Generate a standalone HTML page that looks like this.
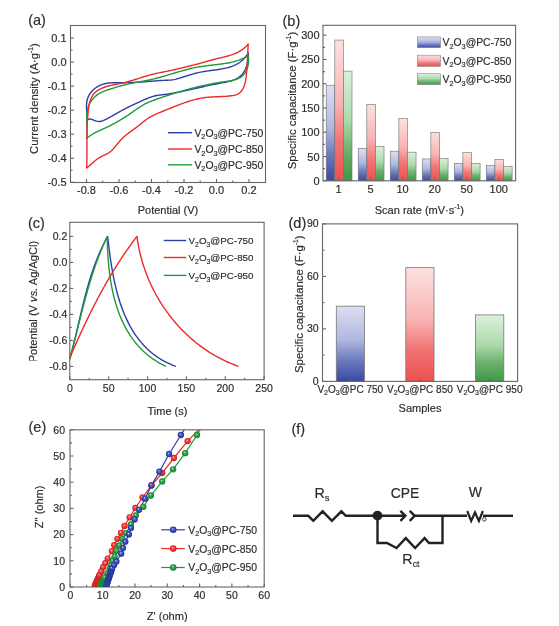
<!DOCTYPE html><html><head><meta charset="utf-8"><style>html,body{margin:0;padding:0;background:#fff;}svg{display:block;will-change:transform}text{font-family:"Liberation Sans",sans-serif;fill:#2b2b2b;stroke:#333;stroke-width:0.18px}</style></head><body>
<svg width="559" height="626" viewBox="0 0 559 626">
<defs>
<linearGradient id="gb" x1="0" y1="0" x2="0" y2="1"><stop offset="0" stop-color="#dcdff3"/><stop offset="0.45" stop-color="#b0b7e0"/><stop offset="0.72" stop-color="#6c7abf"/><stop offset="1" stop-color="#3a48a4"/></linearGradient>
<linearGradient id="gr" x1="0" y1="0" x2="0" y2="1"><stop offset="0" stop-color="#fde0e0"/><stop offset="0.45" stop-color="#f9b4b4"/><stop offset="0.72" stop-color="#f27474"/><stop offset="1" stop-color="#ec5050"/></linearGradient>
<linearGradient id="gg" x1="0" y1="0" x2="0" y2="1"><stop offset="0" stop-color="#dcf0dc"/><stop offset="0.45" stop-color="#acdaac"/><stop offset="0.72" stop-color="#6cb06e"/><stop offset="1" stop-color="#3f9845"/></linearGradient>
<radialGradient id="mb" cx="0.5" cy="0.5" r="0.55" fx="0.42" fy="0.35"><stop offset="0" stop-color="#f4f6ff"/><stop offset="0.22" stop-color="#6070d0"/><stop offset="0.6" stop-color="#3444b0"/><stop offset="1" stop-color="#22308a"/></radialGradient>
<radialGradient id="mr" cx="0.5" cy="0.5" r="0.55" fx="0.42" fy="0.35"><stop offset="0" stop-color="#fff4f4"/><stop offset="0.22" stop-color="#f86060"/><stop offset="0.6" stop-color="#ee2a2a"/><stop offset="1" stop-color="#c01818"/></radialGradient>
<radialGradient id="mg" cx="0.5" cy="0.5" r="0.55" fx="0.42" fy="0.35"><stop offset="0" stop-color="#f4fff4"/><stop offset="0.22" stop-color="#50b060"/><stop offset="0.6" stop-color="#229a3a"/><stop offset="1" stop-color="#16702a"/></radialGradient>
<clipPath id="ce"><rect x="70" y="429.8" width="194.2" height="157.2"/></clipPath>
</defs>
<rect width="559" height="626" fill="#fff"/>
<text x="28.2" y="24.6" font-size="14.5" text-anchor="start" >(a)</text>
<rect x="70.5" y="25.5" width="195" height="157" fill="none" stroke="#666" stroke-width="1.1"/>
<line x1="86.5" y1="182.5" x2="86.5" y2="179" stroke="#666" stroke-width="1.1"/>
<text x="86.5" y="194.3" font-size="11" text-anchor="middle" >-0.8</text>
<line x1="119" y1="182.5" x2="119" y2="179" stroke="#666" stroke-width="1.1"/>
<text x="119" y="194.3" font-size="11" text-anchor="middle" >-0.6</text>
<line x1="151.5" y1="182.5" x2="151.5" y2="179" stroke="#666" stroke-width="1.1"/>
<text x="151.5" y="194.3" font-size="11" text-anchor="middle" >-0.4</text>
<line x1="184" y1="182.5" x2="184" y2="179" stroke="#666" stroke-width="1.1"/>
<text x="184" y="194.3" font-size="11" text-anchor="middle" >-0.2</text>
<line x1="216.5" y1="182.5" x2="216.5" y2="179" stroke="#666" stroke-width="1.1"/>
<text x="216.5" y="194.3" font-size="11" text-anchor="middle" >0.0</text>
<line x1="249" y1="182.5" x2="249" y2="179" stroke="#666" stroke-width="1.1"/>
<text x="249" y="194.3" font-size="11" text-anchor="middle" >0.2</text>
<line x1="102.75" y1="182.5" x2="102.75" y2="180.5" stroke="#666" stroke-width="1.1"/>
<line x1="135.25" y1="182.5" x2="135.25" y2="180.5" stroke="#666" stroke-width="1.1"/>
<line x1="167.75" y1="182.5" x2="167.75" y2="180.5" stroke="#666" stroke-width="1.1"/>
<line x1="200.25" y1="182.5" x2="200.25" y2="180.5" stroke="#666" stroke-width="1.1"/>
<line x1="232.75" y1="182.5" x2="232.75" y2="180.5" stroke="#666" stroke-width="1.1"/>
<line x1="70.5" y1="38" x2="74" y2="38" stroke="#666" stroke-width="1.1"/>
<text x="66.6" y="42" font-size="11" text-anchor="end" >0.1</text>
<line x1="70.5" y1="62.05" x2="74" y2="62.05" stroke="#666" stroke-width="1.1"/>
<text x="66.6" y="66.05" font-size="11" text-anchor="end" >0.0</text>
<line x1="70.5" y1="86.1" x2="74" y2="86.1" stroke="#666" stroke-width="1.1"/>
<text x="66.6" y="90.1" font-size="11" text-anchor="end" >-0.1</text>
<line x1="70.5" y1="110.15" x2="74" y2="110.15" stroke="#666" stroke-width="1.1"/>
<text x="66.6" y="114.15" font-size="11" text-anchor="end" >-0.2</text>
<line x1="70.5" y1="134.2" x2="74" y2="134.2" stroke="#666" stroke-width="1.1"/>
<text x="66.6" y="138.2" font-size="11" text-anchor="end" >-0.3</text>
<line x1="70.5" y1="158.25" x2="74" y2="158.25" stroke="#666" stroke-width="1.1"/>
<text x="66.6" y="162.25" font-size="11" text-anchor="end" >-0.4</text>
<line x1="70.5" y1="182.3" x2="74" y2="182.3" stroke="#666" stroke-width="1.1"/>
<text x="66.6" y="186.3" font-size="11" text-anchor="end" >-0.5</text>
<line x1="70.5" y1="50.03" x2="72.5" y2="50.03" stroke="#666" stroke-width="1.1"/>
<line x1="70.5" y1="74.08" x2="72.5" y2="74.08" stroke="#666" stroke-width="1.1"/>
<line x1="70.5" y1="98.13" x2="72.5" y2="98.13" stroke="#666" stroke-width="1.1"/>
<line x1="70.5" y1="122.18" x2="72.5" y2="122.18" stroke="#666" stroke-width="1.1"/>
<line x1="70.5" y1="146.23" x2="72.5" y2="146.23" stroke="#666" stroke-width="1.1"/>
<line x1="70.5" y1="170.28" x2="72.5" y2="170.28" stroke="#666" stroke-width="1.1"/>
<text transform="translate(37.8,98.6) rotate(-90)" font-size="11.3" text-anchor="middle">Current density (A·g<tspan font-size="6.6" dy="-4.8">-1</tspan><tspan dy="4.8">)</tspan></text>
<text x="168" y="214" font-size="11" text-anchor="middle" >Potential (V)</text>
<path d="M86.6 120.6 L87.63 119.69 L88.69 119.2 L89.76 119.05 L90.86 119.16 L91.97 119.46 L93.09 119.87 L94.21 120.33 L95.34 120.76 L96.47 121.1 L97.59 121.35 L98.71 121.48 L99.81 121.47 L100.91 121.31 L102.01 121.01 L103.09 120.61 L104.18 120.14 L105.26 119.63 L106.34 119.1 L107.42 118.55 L108.5 117.99 L109.57 117.41 L110.63 116.83 L111.68 116.24 L112.71 115.65 L113.74 115.06 L114.77 114.47 L115.79 113.88 L116.81 113.3 L117.83 112.71 L118.86 112.14 L119.89 111.56 L120.92 111 L121.96 110.43 L123 109.87 L124.04 109.32 L125.09 108.77 L126.15 108.23 L127.2 107.69 L128.26 107.16 L129.32 106.63 L130.38 106.1 L131.45 105.58 L132.52 105.07 L133.59 104.55 L134.66 104.05 L135.74 103.54 L136.81 103.05 L137.89 102.55 L138.97 102.06 L140.05 101.58 L141.14 101.09 L142.22 100.62 L143.31 100.14 L144.39 99.67 L145.48 99.21 L146.57 98.74 L147.66 98.29 L148.75 97.86 L149.85 97.44 L150.96 97.04 L152.08 96.67 L153.21 96.33 L154.35 96.03 L155.5 95.77 L156.67 95.54 L157.85 95.34 L159.03 95.16 L160.22 95 L161.41 94.85 L162.6 94.7 L163.8 94.56 L164.99 94.41 L166.18 94.26 L167.36 94.1 L168.54 93.93 L169.72 93.75 L170.89 93.56 L172.06 93.37 L173.23 93.17 L174.4 92.97 L175.56 92.76 L176.72 92.54 L177.88 92.32 L179.04 92.1 L180.19 91.87 L181.35 91.63 L182.5 91.39 L183.65 91.15 L184.8 90.9 L185.95 90.65 L187.1 90.4 L188.24 90.14 L189.39 89.88 L190.54 89.62 L191.68 89.36 L192.83 89.1 L193.98 88.83 L195.13 88.57 L196.27 88.3 L197.42 88.03 L198.57 87.77 L199.72 87.5 L200.88 87.23 L202.03 86.97 L203.19 86.7 L204.34 86.44 L205.5 86.18 L206.67 85.92 L207.83 85.67 L209 85.41 L210.16 85.16 L211.34 84.92 L212.51 84.67 L213.69 84.43 L214.87 84.2 L216.06 83.97 L217.24 83.74 L218.44 83.52 L219.63 83.3 L220.83 83.09 L222.03 82.88 L223.23 82.66 L224.42 82.44 L225.61 82.2 L226.79 81.96 L227.95 81.69 L229.11 81.41 L230.25 81.11 L231.37 80.78 L232.48 80.42 L233.56 80.03 L234.62 79.61 L235.65 79.15 L236.66 78.64 L237.64 78.09 L238.58 77.5 L239.49 76.85 L240.36 76.15 L241.2 75.39 L241.99 74.57 L242.74 73.69 L243.44 72.74 L244.1 71.72 L244.71 70.64 L245.27 69.5 L245.79 68.32 L246.26 67.1 L246.68 65.85 L247.05 64.58 L247.37 63.31 L247.65 62.03 L247.88 60.76 L248.07 59.51 L248.21 58.29 L248.3 57.1 L248.34 55.96 L248.34 54.88 L248.29 53.85 L248.2 52.9 L248.2 52.9 L247.52 54.08 L246.8 55.2 L246.04 56.26 L245.26 57.26 L244.44 58.21 L243.6 59.11 L242.72 59.96 L241.82 60.76 L240.89 61.51 L239.93 62.22 L238.95 62.88 L237.95 63.51 L236.92 64.09 L235.87 64.64 L234.8 65.15 L233.71 65.62 L232.61 66.06 L231.48 66.48 L230.34 66.86 L229.18 67.22 L228.01 67.55 L226.83 67.86 L225.63 68.14 L224.42 68.41 L223.2 68.66 L221.98 68.89 L220.74 69.11 L219.5 69.31 L218.25 69.51 L217 69.69 L215.74 69.87 L214.48 70.04 L213.22 70.21 L211.96 70.38 L210.69 70.55 L209.43 70.72 L208.17 70.89 L206.92 71.07 L205.67 71.26 L204.42 71.45 L203.18 71.66 L201.95 71.88 L200.73 72.11 L199.51 72.36 L198.31 72.63 L197.12 72.91 L195.93 73.21 L194.75 73.52 L193.58 73.84 L192.42 74.17 L191.25 74.51 L190.09 74.86 L188.94 75.21 L187.78 75.57 L186.63 75.93 L185.47 76.29 L184.31 76.66 L183.15 77.02 L181.99 77.38 L180.82 77.73 L179.65 78.08 L178.47 78.43 L177.28 78.76 L176.09 79.08 L174.89 79.37 L173.68 79.63 L172.46 79.84 L171.25 79.98 L170.03 80.08 L168.8 80.14 L167.58 80.18 L166.35 80.23 L165.12 80.28 L163.89 80.34 L162.65 80.41 L161.42 80.49 L160.18 80.57 L158.95 80.66 L157.72 80.75 L156.49 80.84 L155.26 80.94 L154.03 81.03 L152.8 81.13 L151.58 81.22 L150.35 81.32 L149.13 81.41 L147.91 81.5 L146.69 81.59 L145.47 81.68 L144.25 81.77 L143.03 81.86 L141.81 81.94 L140.59 82.02 L139.37 82.1 L138.14 82.18 L136.92 82.25 L135.7 82.31 L134.47 82.38 L133.24 82.44 L132.02 82.49 L130.78 82.54 L129.55 82.59 L128.32 82.62 L127.08 82.66 L125.84 82.68 L124.59 82.7 L123.35 82.72 L122.09 82.73 L120.84 82.73 L119.58 82.72 L118.32 82.71 L117.06 82.71 L115.81 82.72 L114.55 82.73 L113.29 82.76 L112.04 82.82 L110.8 82.89 L109.56 83 L108.34 83.13 L107.12 83.3 L105.91 83.52 L104.71 83.77 L103.53 84.08 L102.36 84.44 L101.21 84.86 L100.08 85.33 L98.97 85.87 L97.88 86.45 L96.82 87.09 L95.8 87.78 L94.81 88.53 L93.86 89.32 L92.95 90.15 L92.09 91.03 L91.28 91.95 L90.52 92.91 L89.82 93.92 L89.18 94.95 L88.61 96.03 L88.1 97.13 L87.67 98.27 L87.31 99.44 L87.02 100.64 L86.82 101.86 L86.67 103.1 L86.58 104.36 L86.54 105.63 L86.54 106.92 L86.57 108.2 L86.62 109.5 L86.68 110.79 L86.75 112.07 L86.81 113.35 L86.86 114.61 L86.88 115.85 L86.88 117.08 L86.84 118.28 L86.75 119.46 L86.6 120.6 Z" fill="none" stroke="#2b3fa6" stroke-width="1.4" stroke-linejoin="round"/>
<path d="M86.6 138.5 L87.53 137.7 L88.48 136.95 L89.45 136.22 L90.44 135.53 L91.44 134.87 L92.46 134.24 L93.5 133.63 L94.55 133.05 L95.61 132.48 L96.69 131.94 L97.77 131.4 L98.86 130.88 L99.95 130.37 L101.05 129.87 L102.15 129.37 L103.25 128.87 L104.36 128.37 L105.46 127.87 L106.55 127.36 L107.65 126.85 L108.74 126.33 L109.82 125.79 L110.9 125.25 L111.97 124.7 L113.04 124.14 L114.1 123.57 L115.16 122.99 L116.21 122.4 L117.26 121.81 L118.31 121.21 L119.35 120.6 L120.38 119.98 L121.42 119.35 L122.44 118.72 L123.47 118.08 L124.49 117.44 L125.5 116.79 L126.52 116.13 L127.52 115.47 L128.53 114.8 L129.53 114.12 L130.53 113.44 L131.53 112.76 L132.52 112.07 L133.51 111.37 L134.5 110.68 L135.49 109.99 L136.48 109.3 L137.47 108.61 L138.47 107.94 L139.47 107.28 L140.48 106.63 L141.5 105.99 L142.52 105.38 L143.56 104.79 L144.61 104.22 L145.67 103.67 L146.74 103.15 L147.82 102.65 L148.92 102.17 L150.02 101.71 L151.13 101.26 L152.24 100.82 L153.37 100.39 L154.5 99.97 L155.63 99.56 L156.76 99.15 L157.9 98.74 L159.05 98.34 L160.19 97.94 L161.34 97.54 L162.49 97.15 L163.64 96.76 L164.79 96.37 L165.95 95.99 L167.1 95.61 L168.26 95.23 L169.42 94.86 L170.58 94.48 L171.73 94.12 L172.89 93.75 L174.05 93.39 L175.21 93.04 L176.37 92.69 L177.53 92.34 L178.68 91.99 L179.84 91.65 L180.99 91.31 L182.15 90.98 L183.3 90.65 L184.46 90.32 L185.61 90 L186.76 89.68 L187.92 89.37 L189.07 89.06 L190.23 88.75 L191.38 88.45 L192.54 88.15 L193.69 87.86 L194.85 87.57 L196.01 87.28 L197.17 87 L198.33 86.72 L199.49 86.45 L200.66 86.18 L201.82 85.91 L202.99 85.65 L204.16 85.39 L205.34 85.14 L206.51 84.89 L207.69 84.65 L208.87 84.41 L210.05 84.17 L211.24 83.94 L212.43 83.71 L213.62 83.49 L214.82 83.27 L216.02 83.06 L217.22 82.85 L218.43 82.65 L219.64 82.45 L220.86 82.25 L222.08 82.06 L223.3 81.88 L224.53 81.69 L225.76 81.51 L226.99 81.33 L228.22 81.15 L229.44 80.95 L230.65 80.73 L231.85 80.5 L233.03 80.24 L234.19 79.95 L235.33 79.62 L236.44 79.26 L237.52 78.85 L238.57 78.39 L239.57 77.88 L240.54 77.31 L241.47 76.68 L242.34 75.98 L243.17 75.21 L243.94 74.36 L244.66 73.44 L245.32 72.46 L245.93 71.41 L246.47 70.32 L246.96 69.18 L247.39 68 L247.75 66.78 L248.06 65.55 L248.3 64.29 L248.48 63.03 L248.6 61.76 L248.65 60.49 L248.64 59.24 L248.56 58 L248.41 56.78 L248.2 55.6 L248.2 55.6 L247.08 56.28 L245.95 56.91 L244.81 57.52 L243.66 58.09 L242.5 58.62 L241.33 59.13 L240.15 59.6 L238.96 60.05 L237.76 60.46 L236.56 60.86 L235.34 61.22 L234.12 61.56 L232.89 61.89 L231.66 62.18 L230.41 62.46 L229.17 62.73 L227.91 62.97 L226.66 63.2 L225.4 63.41 L224.13 63.61 L222.86 63.8 L221.59 63.98 L220.31 64.15 L219.03 64.31 L217.75 64.47 L216.47 64.62 L215.19 64.77 L213.9 64.91 L212.62 65.05 L211.33 65.2 L210.05 65.34 L208.77 65.49 L207.49 65.64 L206.21 65.8 L204.93 65.96 L203.65 66.13 L202.38 66.32 L201.11 66.51 L199.85 66.71 L198.58 66.93 L197.33 67.16 L196.07 67.4 L194.82 67.65 L193.58 67.92 L192.33 68.19 L191.09 68.48 L189.85 68.77 L188.62 69.08 L187.38 69.39 L186.15 69.71 L184.92 70.04 L183.69 70.37 L182.47 70.71 L181.24 71.05 L180.01 71.4 L178.79 71.76 L177.56 72.12 L176.34 72.48 L175.11 72.84 L173.89 73.21 L172.66 73.58 L171.44 73.95 L170.21 74.32 L168.98 74.69 L167.75 75.05 L166.52 75.42 L165.29 75.79 L164.06 76.15 L162.82 76.5 L161.59 76.86 L160.35 77.21 L159.11 77.55 L157.87 77.88 L156.63 78.21 L155.39 78.53 L154.15 78.84 L152.9 79.15 L151.65 79.44 L150.4 79.72 L149.15 79.99 L147.9 80.25 L146.64 80.51 L145.39 80.75 L144.13 80.99 L142.88 81.23 L141.62 81.46 L140.36 81.68 L139.11 81.91 L137.85 82.14 L136.6 82.37 L135.34 82.6 L134.09 82.83 L132.83 83.07 L131.58 83.32 L130.33 83.57 L129.09 83.84 L127.84 84.11 L126.6 84.39 L125.36 84.69 L124.12 84.99 L122.89 85.31 L121.65 85.65 L120.42 85.99 L119.19 86.34 L117.96 86.7 L116.73 87.07 L115.49 87.45 L114.26 87.83 L113.02 88.21 L111.78 88.6 L110.53 88.99 L109.29 89.38 L108.04 89.78 L106.8 90.19 L105.56 90.62 L104.34 91.07 L103.14 91.55 L101.96 92.07 L100.81 92.63 L99.69 93.24 L98.6 93.89 L97.55 94.6 L96.54 95.35 L95.57 96.15 L94.64 96.99 L93.75 97.88 L92.92 98.81 L92.13 99.77 L91.39 100.78 L90.7 101.82 L90.06 102.89 L89.49 104 L88.96 105.13 L88.5 106.3 L88.11 107.5 L87.77 108.72 L87.48 109.96 L87.25 111.23 L87.07 112.52 L86.93 113.82 L86.83 115.13 L86.76 116.46 L86.72 117.8 L86.71 119.14 L86.72 120.49 L86.74 121.84 L86.78 123.19 L86.83 124.53 L86.88 125.88 L86.92 127.21 L86.97 128.54 L87 129.85 L87.02 131.15 L87.02 132.43 L87 133.69 L86.95 134.93 L86.87 136.15 L86.76 137.34 L86.6 138.5 Z" fill="none" stroke="#1e9a3a" stroke-width="1.4" stroke-linejoin="round"/>
<path d="M86.6 168 L87.74 167.14 L88.84 166.24 L89.92 165.32 L90.99 164.37 L92.05 163.41 L93.11 162.46 L94.17 161.51 L95.26 160.59 L96.36 159.69 L97.5 158.84 L98.67 158.03 L99.89 157.29 L101.16 156.61 L102.47 155.99 L103.8 155.38 L105.12 154.77 L106.42 154.14 L107.68 153.47 L108.89 152.72 L110.03 151.89 L111.12 150.99 L112.15 150.04 L113.15 149.03 L114.11 147.98 L115.04 146.9 L115.96 145.79 L116.86 144.67 L117.76 143.55 L118.66 142.43 L119.57 141.33 L120.5 140.26 L121.46 139.21 L122.45 138.21 L123.46 137.25 L124.51 136.31 L125.57 135.41 L126.66 134.54 L127.77 133.68 L128.89 132.84 L130.02 132 L131.17 131.18 L132.31 130.35 L133.46 129.53 L134.61 128.69 L135.76 127.84 L136.9 126.98 L138.03 126.09 L139.16 125.18 L140.27 124.27 L141.39 123.35 L142.51 122.43 L143.64 121.53 L144.77 120.65 L145.92 119.8 L147.09 118.99 L148.27 118.22 L149.47 117.48 L150.69 116.78 L151.92 116.11 L153.17 115.47 L154.42 114.85 L155.69 114.26 L156.97 113.68 L158.26 113.12 L159.56 112.57 L160.86 112.03 L162.17 111.5 L163.49 110.98 L164.8 110.45 L166.12 109.92 L167.45 109.39 L168.77 108.86 L170.1 108.32 L171.42 107.79 L172.75 107.25 L174.09 106.72 L175.42 106.19 L176.76 105.66 L178.09 105.14 L179.44 104.62 L180.78 104.12 L182.12 103.62 L183.47 103.13 L184.82 102.65 L186.18 102.18 L187.53 101.73 L188.89 101.29 L190.25 100.86 L191.62 100.45 L192.99 100.06 L194.36 99.69 L195.73 99.34 L197.11 99.01 L198.49 98.7 L199.88 98.41 L201.26 98.15 L202.65 97.91 L204.05 97.7 L205.45 97.52 L206.85 97.36 L208.25 97.22 L209.66 97.11 L211.07 97.01 L212.49 96.93 L213.9 96.85 L215.32 96.79 L216.74 96.73 L218.17 96.68 L219.59 96.62 L221.02 96.56 L222.45 96.5 L223.88 96.42 L225.31 96.34 L226.74 96.23 L228.18 96.12 L229.61 95.98 L231.05 95.81 L232.48 95.62 L233.9 95.38 L235.28 95.05 L236.61 94.62 L237.86 94.05 L239.02 93.32 L240.09 92.44 L241.06 91.42 L241.93 90.29 L242.71 89.07 L243.39 87.78 L243.98 86.45 L244.49 85.09 L244.91 83.71 L245.27 82.31 L245.56 80.89 L245.8 79.46 L246.01 78.02 L246.18 76.58 L246.33 75.14 L246.46 73.7 L246.59 72.27 L246.71 70.84 L246.82 69.41 L246.92 67.99 L247.02 66.58 L247.11 65.16 L247.2 63.75 L247.29 62.34 L247.37 60.93 L247.44 59.52 L247.52 58.12 L247.59 56.71 L247.66 55.3 L247.72 53.88 L247.79 52.47 L247.86 51.05 L247.92 49.63 L247.99 48.2 L248.06 46.78 L248.13 45.34 L248.2 43.9 L248.2 43.9 L247.19 45.14 L246.13 46.29 L245.03 47.37 L243.89 48.37 L242.71 49.29 L241.49 50.15 L240.25 50.95 L238.97 51.69 L237.66 52.37 L236.32 53 L234.96 53.59 L233.58 54.13 L232.17 54.64 L230.75 55.11 L229.32 55.55 L227.87 55.97 L226.41 56.37 L224.94 56.74 L223.46 57.11 L221.98 57.47 L220.5 57.82 L219.02 58.17 L217.53 58.52 L216.06 58.89 L214.59 59.26 L213.13 59.65 L211.67 60.05 L210.23 60.46 L208.78 60.87 L207.34 61.29 L205.9 61.7 L204.46 62.12 L203.02 62.53 L201.57 62.93 L200.13 63.33 L198.68 63.71 L197.22 64.08 L195.76 64.45 L194.31 64.81 L192.85 65.17 L191.39 65.54 L189.93 65.9 L188.47 66.26 L187.02 66.63 L185.56 66.99 L184.1 67.35 L182.64 67.71 L181.17 68.07 L179.71 68.42 L178.24 68.77 L176.78 69.12 L175.31 69.46 L173.83 69.79 L172.36 70.12 L170.88 70.44 L169.4 70.76 L167.92 71.07 L166.43 71.37 L164.95 71.67 L163.46 71.97 L161.97 72.27 L160.49 72.57 L159 72.88 L157.53 73.19 L156.05 73.51 L154.58 73.85 L153.12 74.19 L151.66 74.55 L150.21 74.92 L148.77 75.31 L147.33 75.72 L145.9 76.14 L144.48 76.57 L143.05 77.01 L141.63 77.45 L140.22 77.9 L138.8 78.35 L137.38 78.81 L135.96 79.26 L134.54 79.71 L133.12 80.16 L131.69 80.6 L130.25 81.03 L128.81 81.45 L127.36 81.85 L125.9 82.24 L124.44 82.62 L122.96 82.98 L121.47 83.32 L119.96 83.63 L118.45 83.93 L116.94 84.23 L115.42 84.52 L113.9 84.81 L112.38 85.11 L110.88 85.43 L109.38 85.77 L107.9 86.14 L106.44 86.54 L105 86.99 L103.58 87.48 L102.2 88.03 L100.84 88.63 L99.53 89.3 L98.26 90.04 L97.05 90.85 L95.91 91.74 L94.85 92.71 L93.87 93.76 L92.98 94.89 L92.18 96.09 L91.47 97.36 L90.85 98.69 L90.32 100.08 L89.86 101.52 L89.47 103 L89.14 104.51 L88.86 106.04 L88.62 107.6 L88.42 109.16 L88.24 110.72 L88.07 112.27 L87.93 113.82 L87.79 115.36 L87.67 116.89 L87.56 118.42 L87.46 119.94 L87.37 121.46 L87.29 122.97 L87.22 124.47 L87.16 125.98 L87.11 127.48 L87.07 128.97 L87.04 130.46 L87.01 131.96 L86.98 133.44 L86.97 134.93 L86.95 136.41 L86.94 137.9 L86.94 139.38 L86.93 140.87 L86.93 142.35 L86.93 143.83 L86.93 145.32 L86.94 146.81 L86.94 148.29 L86.94 149.79 L86.93 151.28 L86.93 152.78 L86.92 154.28 L86.91 155.78 L86.89 157.29 L86.87 158.8 L86.84 160.32 L86.81 161.84 L86.77 163.37 L86.72 164.91 L86.67 166.45 L86.6 168 Z" fill="none" stroke="#ee2a2a" stroke-width="1.4" stroke-linejoin="round"/>
<line x1="167.9" y1="132.7" x2="191.9" y2="132.7" stroke="#2b3fa6" stroke-width="1.4"/>
<text x="194.4" y="136.6" font-size="10.4" text-anchor="start" >V<tspan font-size="7.28" dy="2.6">2</tspan><tspan dy="-2.6">O</tspan><tspan font-size="7.28" dy="2.6">3</tspan><tspan dy="-2.6">@PC-750</tspan></text>
<line x1="167.9" y1="149" x2="191.9" y2="149" stroke="#ee2a2a" stroke-width="1.4"/>
<text x="194.4" y="152.9" font-size="10.4" text-anchor="start" >V<tspan font-size="7.28" dy="2.6">2</tspan><tspan dy="-2.6">O</tspan><tspan font-size="7.28" dy="2.6">3</tspan><tspan dy="-2.6">@PC-850</tspan></text>
<line x1="167.9" y1="164.8" x2="191.9" y2="164.8" stroke="#1e9a3a" stroke-width="1.4"/>
<text x="194.4" y="168.7" font-size="10.4" text-anchor="start" >V<tspan font-size="7.28" dy="2.6">2</tspan><tspan dy="-2.6">O</tspan><tspan font-size="7.28" dy="2.6">3</tspan><tspan dy="-2.6">@PC-950</tspan></text>
<text x="282.5" y="26" font-size="14.5" text-anchor="start" >(b)</text>
<rect x="326.2" y="85.2" width="8.6" height="95.6" fill="url(#gb)" stroke="#6e6e6e" stroke-width="0.6"/>
<rect x="334.8" y="40.06" width="8.6" height="140.74" fill="url(#gr)" stroke="#6e6e6e" stroke-width="0.6"/>
<rect x="343.4" y="71.12" width="8.6" height="109.68" fill="url(#gg)" stroke="#6e6e6e" stroke-width="0.6"/>
<rect x="358.22" y="148.28" width="8.6" height="32.52" fill="url(#gb)" stroke="#6e6e6e" stroke-width="0.6"/>
<rect x="366.82" y="104.61" width="8.6" height="76.19" fill="url(#gr)" stroke="#6e6e6e" stroke-width="0.6"/>
<rect x="375.42" y="146.34" width="8.6" height="34.46" fill="url(#gg)" stroke="#6e6e6e" stroke-width="0.6"/>
<rect x="390.24" y="151.2" width="8.6" height="29.6" fill="url(#gb)" stroke="#6e6e6e" stroke-width="0.6"/>
<rect x="398.84" y="118.68" width="8.6" height="62.12" fill="url(#gr)" stroke="#6e6e6e" stroke-width="0.6"/>
<rect x="407.44" y="152.17" width="8.6" height="28.63" fill="url(#gg)" stroke="#6e6e6e" stroke-width="0.6"/>
<rect x="422.26" y="158.96" width="8.6" height="21.84" fill="url(#gb)" stroke="#6e6e6e" stroke-width="0.6"/>
<rect x="430.86" y="132.27" width="8.6" height="48.53" fill="url(#gr)" stroke="#6e6e6e" stroke-width="0.6"/>
<rect x="439.46" y="158.48" width="8.6" height="22.32" fill="url(#gg)" stroke="#6e6e6e" stroke-width="0.6"/>
<rect x="454.28" y="163.33" width="8.6" height="17.47" fill="url(#gb)" stroke="#6e6e6e" stroke-width="0.6"/>
<rect x="462.88" y="152.65" width="8.6" height="28.15" fill="url(#gr)" stroke="#6e6e6e" stroke-width="0.6"/>
<rect x="471.48" y="163.33" width="8.6" height="17.47" fill="url(#gg)" stroke="#6e6e6e" stroke-width="0.6"/>
<rect x="486.3" y="165.27" width="8.6" height="15.53" fill="url(#gb)" stroke="#6e6e6e" stroke-width="0.6"/>
<rect x="494.9" y="159.45" width="8.6" height="21.35" fill="url(#gr)" stroke="#6e6e6e" stroke-width="0.6"/>
<rect x="503.5" y="166.24" width="8.6" height="14.56" fill="url(#gg)" stroke="#6e6e6e" stroke-width="0.6"/>
<rect x="323" y="25.3" width="192.6" height="155.5" fill="none" stroke="#666" stroke-width="1.1"/>
<line x1="338.6" y1="180.8" x2="338.6" y2="177.8" stroke="#666" stroke-width="1.1"/>
<text x="338.6" y="192.6" font-size="11" text-anchor="middle" >1</text>
<line x1="370.62" y1="180.8" x2="370.62" y2="177.8" stroke="#666" stroke-width="1.1"/>
<text x="370.62" y="192.6" font-size="11" text-anchor="middle" >5</text>
<line x1="402.64" y1="180.8" x2="402.64" y2="177.8" stroke="#666" stroke-width="1.1"/>
<text x="402.64" y="192.6" font-size="11" text-anchor="middle" >10</text>
<line x1="434.66" y1="180.8" x2="434.66" y2="177.8" stroke="#666" stroke-width="1.1"/>
<text x="434.66" y="192.6" font-size="11" text-anchor="middle" >20</text>
<line x1="466.68" y1="180.8" x2="466.68" y2="177.8" stroke="#666" stroke-width="1.1"/>
<text x="466.68" y="192.6" font-size="11" text-anchor="middle" >50</text>
<line x1="498.7" y1="180.8" x2="498.7" y2="177.8" stroke="#666" stroke-width="1.1"/>
<text x="498.7" y="192.6" font-size="11" text-anchor="middle" >100</text>
<line x1="323" y1="180.8" x2="326.5" y2="180.8" stroke="#666" stroke-width="1.1"/>
<text x="319.6" y="184.8" font-size="11" text-anchor="end" >0</text>
<line x1="323" y1="156.54" x2="326.5" y2="156.54" stroke="#666" stroke-width="1.1"/>
<text x="319.6" y="160.54" font-size="11" text-anchor="end" >50</text>
<line x1="323" y1="132.27" x2="326.5" y2="132.27" stroke="#666" stroke-width="1.1"/>
<text x="319.6" y="136.27" font-size="11" text-anchor="end" >100</text>
<line x1="323" y1="108.01" x2="326.5" y2="108.01" stroke="#666" stroke-width="1.1"/>
<text x="319.6" y="112.01" font-size="11" text-anchor="end" >150</text>
<line x1="323" y1="83.74" x2="326.5" y2="83.74" stroke="#666" stroke-width="1.1"/>
<text x="319.6" y="87.74" font-size="11" text-anchor="end" >200</text>
<line x1="323" y1="59.48" x2="326.5" y2="59.48" stroke="#666" stroke-width="1.1"/>
<text x="319.6" y="63.48" font-size="11" text-anchor="end" >250</text>
<line x1="323" y1="35.21" x2="326.5" y2="35.21" stroke="#666" stroke-width="1.1"/>
<text x="319.6" y="39.21" font-size="11" text-anchor="end" >300</text>
<line x1="323" y1="168.67" x2="325" y2="168.67" stroke="#666" stroke-width="1.1"/>
<line x1="323" y1="144.4" x2="325" y2="144.4" stroke="#666" stroke-width="1.1"/>
<line x1="323" y1="120.14" x2="325" y2="120.14" stroke="#666" stroke-width="1.1"/>
<line x1="323" y1="95.87" x2="325" y2="95.87" stroke="#666" stroke-width="1.1"/>
<line x1="323" y1="71.61" x2="325" y2="71.61" stroke="#666" stroke-width="1.1"/>
<line x1="323" y1="47.34" x2="325" y2="47.34" stroke="#666" stroke-width="1.1"/>
<text transform="translate(296.2,100.5) rotate(-90)" font-size="11.4" text-anchor="middle">Specific capacitance (F·g<tspan font-size="6.6" dy="-4.8">-1</tspan><tspan dy="4.8">)</tspan></text>
<text x="419.3" y="213.5" font-size="11" text-anchor="middle">Scan rate (mV·s<tspan font-size="6.6" dy="-4.8">-1</tspan><tspan dy="4.8">)</tspan></text>
<rect x="417.3" y="36.9" width="23.2" height="10.8" fill="url(#gb)" stroke="#888" stroke-width="0.6"/>
<text x="442.5" y="46.2" font-size="10.4" text-anchor="start" >V<tspan font-size="7.28" dy="2.6">2</tspan><tspan dy="-2.6">O</tspan><tspan font-size="7.28" dy="2.6">3</tspan><tspan dy="-2.6">@PC-750</tspan></text>
<rect x="417.3" y="55.2" width="23.2" height="11.2" fill="url(#gr)" stroke="#888" stroke-width="0.6"/>
<text x="442.5" y="64.7" font-size="10.4" text-anchor="start" >V<tspan font-size="7.28" dy="2.6">2</tspan><tspan dy="-2.6">O</tspan><tspan font-size="7.28" dy="2.6">3</tspan><tspan dy="-2.6">@PC-850</tspan></text>
<rect x="417.3" y="73.7" width="23.2" height="11" fill="url(#gg)" stroke="#888" stroke-width="0.6"/>
<text x="442.5" y="83.1" font-size="10.4" text-anchor="start" >V<tspan font-size="7.28" dy="2.6">2</tspan><tspan dy="-2.6">O</tspan><tspan font-size="7.28" dy="2.6">3</tspan><tspan dy="-2.6">@PC-950</tspan></text>
<text x="28" y="227.5" font-size="14.5" text-anchor="start" >(c)</text>
<rect x="69.8" y="222.3" width="194.3" height="157.4" fill="none" stroke="#666" stroke-width="1.1"/>
<line x1="69.8" y1="379.7" x2="69.8" y2="376.2" stroke="#666" stroke-width="1.1"/>
<text x="69.8" y="391.8" font-size="10.5" text-anchor="middle" >0</text>
<line x1="108.66" y1="379.7" x2="108.66" y2="376.2" stroke="#666" stroke-width="1.1"/>
<text x="108.66" y="391.8" font-size="10.5" text-anchor="middle" >50</text>
<line x1="147.52" y1="379.7" x2="147.52" y2="376.2" stroke="#666" stroke-width="1.1"/>
<text x="147.52" y="391.8" font-size="10.5" text-anchor="middle" >100</text>
<line x1="186.38" y1="379.7" x2="186.38" y2="376.2" stroke="#666" stroke-width="1.1"/>
<text x="186.38" y="391.8" font-size="10.5" text-anchor="middle" >150</text>
<line x1="225.24" y1="379.7" x2="225.24" y2="376.2" stroke="#666" stroke-width="1.1"/>
<text x="225.24" y="391.8" font-size="10.5" text-anchor="middle" >200</text>
<line x1="264.1" y1="379.7" x2="264.1" y2="376.2" stroke="#666" stroke-width="1.1"/>
<text x="264.1" y="391.8" font-size="10.5" text-anchor="middle" >250</text>
<line x1="89.23" y1="379.7" x2="89.23" y2="377.7" stroke="#666" stroke-width="1.1"/>
<line x1="128.09" y1="379.7" x2="128.09" y2="377.7" stroke="#666" stroke-width="1.1"/>
<line x1="166.95" y1="379.7" x2="166.95" y2="377.7" stroke="#666" stroke-width="1.1"/>
<line x1="205.81" y1="379.7" x2="205.81" y2="377.7" stroke="#666" stroke-width="1.1"/>
<line x1="244.67" y1="379.7" x2="244.67" y2="377.7" stroke="#666" stroke-width="1.1"/>
<line x1="69.8" y1="236.4" x2="73.3" y2="236.4" stroke="#666" stroke-width="1.1"/>
<text x="67.3" y="240.2" font-size="10.5" text-anchor="end" >0.2</text>
<line x1="69.8" y1="262.4" x2="73.3" y2="262.4" stroke="#666" stroke-width="1.1"/>
<text x="67.3" y="266.2" font-size="10.5" text-anchor="end" >0.0</text>
<line x1="69.8" y1="288.4" x2="73.3" y2="288.4" stroke="#666" stroke-width="1.1"/>
<text x="67.3" y="292.2" font-size="10.5" text-anchor="end" >-0.2</text>
<line x1="69.8" y1="314.4" x2="73.3" y2="314.4" stroke="#666" stroke-width="1.1"/>
<text x="67.3" y="318.2" font-size="10.5" text-anchor="end" >-0.4</text>
<line x1="69.8" y1="340.4" x2="73.3" y2="340.4" stroke="#666" stroke-width="1.1"/>
<text x="67.3" y="344.2" font-size="10.5" text-anchor="end" >-0.6</text>
<line x1="69.8" y1="366.4" x2="73.3" y2="366.4" stroke="#666" stroke-width="1.1"/>
<text x="67.3" y="370.2" font-size="10.5" text-anchor="end" >-0.8</text>
<line x1="69.8" y1="249.4" x2="71.8" y2="249.4" stroke="#666" stroke-width="1.1"/>
<line x1="69.8" y1="275.4" x2="71.8" y2="275.4" stroke="#666" stroke-width="1.1"/>
<line x1="69.8" y1="301.4" x2="71.8" y2="301.4" stroke="#666" stroke-width="1.1"/>
<line x1="69.8" y1="327.4" x2="71.8" y2="327.4" stroke="#666" stroke-width="1.1"/>
<line x1="69.8" y1="353.4" x2="71.8" y2="353.4" stroke="#666" stroke-width="1.1"/>
<clipPath id="cpt"><rect x="0" y="200" width="60" height="160.6"/></clipPath>
<g clip-path="url(#cpt)"><text transform="translate(37.2,301.6) rotate(-90)" font-size="11.1" text-anchor="middle">Potential (V <tspan font-style="italic">vs.</tspan> Ag/AgCl)</text></g>
<text x="167.5" y="415.3" font-size="11" text-anchor="middle" >Time (s)</text>
<path d="M69.8 359 L70.22 357.44 L70.65 355.88 L71.07 354.31 L71.48 352.74 L71.89 351.17 L72.29 349.6 L72.69 348.03 L73.09 346.45 L73.48 344.87 L73.87 343.29 L74.26 341.71 L74.64 340.12 L75.02 338.54 L75.4 336.95 L75.77 335.36 L76.15 333.78 L76.52 332.19 L76.89 330.59 L77.26 329 L77.63 327.41 L78 325.82 L78.37 324.22 L78.74 322.63 L79.11 321.04 L79.48 319.44 L79.86 317.85 L80.23 316.25 L80.6 314.66 L80.98 313.07 L81.36 311.47 L81.74 309.88 L82.12 308.29 L82.5 306.7 L82.89 305.11 L83.28 303.52 L83.68 301.93 L84.08 300.35 L84.48 298.76 L84.88 297.18 L85.3 295.6 L85.71 294.01 L86.13 292.44 L86.56 290.86 L86.99 289.29 L87.43 287.71 L87.87 286.14 L88.32 284.58 L88.78 283.01 L89.25 281.45 L89.72 279.89 L90.2 278.33 L90.68 276.78 L91.18 275.23 L91.68 273.68 L92.19 272.14 L92.71 270.6 L93.24 269.06 L93.78 267.53 L94.33 266 L94.88 264.48 L95.45 262.95 L96.03 261.44 L96.62 259.92 L97.22 258.42 L97.83 256.91 L98.45 255.41 L99.08 253.92 L99.73 252.43 L100.39 250.94 L101.06 249.46 L101.74 247.99 L102.44 246.52 L103.15 245.06 L103.87 243.6 L104.6 242.15 L105.36 240.7 L106.12 239.26 L106.9 237.82 L107.69 236.4 L107.7 236.41 L107.9 238.26 L108.11 240.13 L108.32 242.02 L108.53 243.91 L108.76 245.81 L108.99 247.72 L109.22 249.65 L109.46 251.58 L109.72 253.51 L109.98 255.46 L110.24 257.41 L110.52 259.36 L110.81 261.32 L111.11 263.29 L111.42 265.25 L111.74 267.22 L112.07 269.19 L112.41 271.17 L112.77 273.14 L113.14 275.11 L113.52 277.09 L113.92 279.06 L114.33 281.03 L114.76 282.99 L115.21 284.95 L115.66 286.91 L116.14 288.86 L116.63 290.81 L117.15 292.75 L117.67 294.69 L118.22 296.61 L118.79 298.53 L119.37 300.44 L119.98 302.34 L120.61 304.22 L121.26 306.1 L121.92 307.96 L122.62 309.82 L123.33 311.65 L124.06 313.48 L124.82 315.29 L125.61 317.08 L126.42 318.86 L127.25 320.62 L128.11 322.37 L128.99 324.09 L129.9 325.8 L130.84 327.49 L131.8 329.15 L132.79 330.8 L133.81 332.42 L134.86 334.03 L135.94 335.61 L137.05 337.16 L138.19 338.69 L139.36 340.2 L140.56 341.68 L141.79 343.13 L143.05 344.56 L144.35 345.96 L145.68 347.32 L147.04 348.67 L148.43 349.98 L149.87 351.26 L151.33 352.5 L152.83 353.72 L154.37 354.9 L155.95 356.05 L157.56 357.17 L159.21 358.25 L160.89 359.3 L162.62 360.31 L164.38 361.28 L166.18 362.22 L168.03 363.11 L169.91 363.97 L171.83 364.79 L173.8 365.57 L175.81 366.3" fill="none" stroke="#2b3fa6" stroke-width="1.4" stroke-linejoin="round"/>
<path d="M69.8 359 L70.22 357.44 L70.64 355.87 L71.05 354.31 L71.47 352.75 L71.88 351.18 L72.29 349.61 L72.69 348.04 L73.1 346.47 L73.5 344.9 L73.9 343.33 L74.3 341.76 L74.7 340.19 L75.1 338.61 L75.49 337.04 L75.89 335.46 L76.28 333.89 L76.68 332.31 L77.07 330.74 L77.46 329.16 L77.86 327.58 L78.25 326.01 L78.64 324.43 L79.04 322.85 L79.43 321.28 L79.83 319.7 L80.23 318.13 L80.63 316.55 L81.03 314.97 L81.43 313.4 L81.83 311.82 L82.24 310.25 L82.64 308.68 L83.05 307.1 L83.46 305.53 L83.88 303.96 L84.29 302.39 L84.71 300.82 L85.14 299.25 L85.56 297.68 L85.99 296.12 L86.42 294.55 L86.86 292.99 L87.3 291.42 L87.75 289.86 L88.2 288.3 L88.65 286.74 L89.11 285.19 L89.57 283.63 L90.04 282.08 L90.51 280.53 L90.99 278.98 L91.47 277.43 L91.96 275.88 L92.46 274.34 L92.96 272.8 L93.46 271.26 L93.98 269.72 L94.5 268.19 L95.02 266.65 L95.56 265.12 L96.1 263.59 L96.64 262.07 L97.2 260.55 L97.76 259.03 L98.33 257.51 L98.91 256 L99.49 254.48 L100.08 252.98 L100.69 251.47 L101.3 249.97 L101.92 248.47 L102.54 246.97 L103.18 245.48 L103.83 243.99 L104.48 242.51 L105.15 241.02 L105.82 239.55 L106.5 238.07 L107.2 236.6 L107.2 236.6 L107.23 238.45 L107.27 240.31 L107.32 242.18 L107.37 244.05 L107.44 245.93 L107.51 247.82 L107.59 249.71 L107.69 251.61 L107.79 253.51 L107.91 255.42 L108.03 257.33 L108.17 259.24 L108.32 261.16 L108.48 263.07 L108.66 264.99 L108.85 266.91 L109.05 268.84 L109.27 270.76 L109.51 272.68 L109.75 274.6 L110.02 276.51 L110.3 278.43 L110.59 280.34 L110.9 282.25 L111.23 284.15 L111.58 286.06 L111.94 287.95 L112.33 289.84 L112.73 291.73 L113.15 293.6 L113.59 295.47 L114.05 297.34 L114.53 299.19 L115.04 301.04 L115.56 302.87 L116.11 304.7 L116.67 306.52 L117.26 308.32 L117.87 310.11 L118.51 311.9 L119.17 313.67 L119.85 315.42 L120.56 317.17 L121.29 318.89 L122.05 320.61 L122.84 322.31 L123.65 323.99 L124.48 325.66 L125.35 327.31 L126.24 328.94 L127.16 330.55 L128.1 332.15 L129.08 333.73 L130.08 335.28 L131.12 336.82 L132.18 338.34 L133.27 339.83 L134.4 341.31 L135.55 342.76 L136.74 344.19 L137.96 345.6 L139.21 346.98 L140.5 348.33 L141.81 349.67 L143.16 350.97 L144.55 352.26 L145.96 353.51 L147.42 354.74 L148.91 355.94 L150.43 357.11 L151.99 358.25 L153.59 359.37 L155.22 360.45 L156.89 361.5 L158.6 362.53 L160.34 363.52 L162.13 364.48 L163.95 365.4 L165.81 366.3" fill="none" stroke="#1e9a3a" stroke-width="1.4" stroke-linejoin="round"/>
<path d="M69.79 357.7 L70.49 356.09 L71.19 354.48 L71.89 352.88 L72.59 351.27 L73.3 349.66 L74.01 348.06 L74.72 346.45 L75.43 344.85 L76.15 343.24 L76.87 341.64 L77.59 340.04 L78.31 338.44 L79.04 336.84 L79.77 335.24 L80.51 333.64 L81.24 332.04 L81.98 330.44 L82.73 328.85 L83.47 327.25 L84.22 325.66 L84.98 324.07 L85.73 322.48 L86.49 320.89 L87.26 319.3 L88.03 317.72 L88.8 316.14 L89.58 314.55 L90.35 312.97 L91.14 311.4 L91.93 309.82 L92.72 308.25 L93.52 306.67 L94.32 305.11 L95.12 303.54 L95.93 301.97 L96.75 300.41 L97.56 298.85 L98.39 297.29 L99.22 295.74 L100.05 294.19 L100.89 292.64 L101.73 291.09 L102.58 289.54 L103.43 288 L104.29 286.47 L105.15 284.93 L106.02 283.4 L106.89 281.87 L107.77 280.34 L108.66 278.82 L109.55 277.3 L110.44 275.79 L111.34 274.27 L112.25 272.77 L113.17 271.26 L114.08 269.76 L115.01 268.26 L115.94 266.77 L116.88 265.28 L117.82 263.79 L118.77 262.31 L119.73 260.83 L120.69 259.36 L121.66 257.89 L122.63 256.43 L123.61 254.97 L124.6 253.51 L125.6 252.06 L126.6 250.61 L127.61 249.17 L128.62 247.73 L129.64 246.3 L130.67 244.87 L131.71 243.44 L132.75 242.03 L133.8 240.61 L134.86 239.2 L135.93 237.8 L137 236.4 L137 236.4 L137.28 238.57 L137.6 240.74 L137.94 242.9 L138.32 245.06 L138.72 247.21 L139.16 249.36 L139.62 251.5 L140.12 253.64 L140.64 255.77 L141.2 257.89 L141.78 260 L142.39 262.11 L143.03 264.21 L143.69 266.3 L144.39 268.38 L145.11 270.45 L145.86 272.51 L146.64 274.57 L147.45 276.61 L148.28 278.64 L149.14 280.66 L150.03 282.67 L150.94 284.67 L151.88 286.65 L152.85 288.63 L153.84 290.59 L154.85 292.53 L155.9 294.47 L156.97 296.38 L158.06 298.29 L159.18 300.18 L160.32 302.05 L161.49 303.91 L162.68 305.76 L163.9 307.58 L165.14 309.39 L166.4 311.19 L167.69 312.96 L169 314.72 L170.34 316.46 L171.69 318.18 L173.07 319.89 L174.48 321.57 L175.9 323.24 L177.35 324.88 L178.82 326.5 L180.31 328.11 L181.82 329.69 L183.36 331.25 L184.91 332.79 L186.49 334.31 L188.09 335.8 L189.71 337.27 L191.35 338.72 L193.01 340.15 L194.69 341.55 L196.38 342.93 L198.1 344.28 L199.84 345.6 L201.6 346.9 L203.38 348.18 L205.17 349.43 L206.99 350.65 L208.82 351.85 L210.67 353.02 L212.54 354.16 L214.43 355.27 L216.33 356.35 L218.25 357.41 L220.19 358.44 L222.15 359.43 L224.13 360.4 L226.12 361.34 L228.12 362.24 L230.15 363.12 L232.19 363.96 L234.24 364.77 L236.31 365.55 L238.4 366.3" fill="none" stroke="#ee2a2a" stroke-width="1.4" stroke-linejoin="round"/>
<line x1="163.8" y1="240.5" x2="186.3" y2="240.5" stroke="#2b3fa6" stroke-width="1.4"/>
<text x="188.5" y="244.2" font-size="9.8" text-anchor="start" >V<tspan font-size="6.86" dy="2.6">2</tspan><tspan dy="-2.6">O</tspan><tspan font-size="6.86" dy="2.6">3</tspan><tspan dy="-2.6">@PC-750</tspan></text>
<line x1="163.8" y1="257.5" x2="186.3" y2="257.5" stroke="#ee2a2a" stroke-width="1.4"/>
<text x="188.5" y="261.2" font-size="9.8" text-anchor="start" >V<tspan font-size="6.86" dy="2.6">2</tspan><tspan dy="-2.6">O</tspan><tspan font-size="6.86" dy="2.6">3</tspan><tspan dy="-2.6">@PC-850</tspan></text>
<line x1="163.8" y1="275.4" x2="186.3" y2="275.4" stroke="#1e9a3a" stroke-width="1.4"/>
<text x="188.5" y="279.1" font-size="9.8" text-anchor="start" >V<tspan font-size="6.86" dy="2.6">2</tspan><tspan dy="-2.6">O</tspan><tspan font-size="6.86" dy="2.6">3</tspan><tspan dy="-2.6">@PC-950</tspan></text>
<text x="288.5" y="227.6" font-size="14.5" text-anchor="start" >(d)</text>
<rect x="336.3" y="306.15" width="28.1" height="75.25" fill="url(#gb)" stroke="#777" stroke-width="0.8"/>
<rect x="405.8" y="267.65" width="28.2" height="113.75" fill="url(#gr)" stroke="#777" stroke-width="0.8"/>
<rect x="475.4" y="314.9" width="28.4" height="66.5" fill="url(#gg)" stroke="#777" stroke-width="0.8"/>
<rect x="322.5" y="223.9" width="195.1" height="157.5" fill="none" stroke="#666" stroke-width="1.1"/>
<line x1="322.5" y1="381.4" x2="326" y2="381.4" stroke="#666" stroke-width="1.1"/>
<text x="318.6" y="384.8" font-size="10.5" text-anchor="end" >0</text>
<line x1="322.5" y1="328.9" x2="326" y2="328.9" stroke="#666" stroke-width="1.1"/>
<text x="318.6" y="332.3" font-size="10.5" text-anchor="end" >30</text>
<line x1="322.5" y1="276.4" x2="326" y2="276.4" stroke="#666" stroke-width="1.1"/>
<text x="318.6" y="279.8" font-size="10.5" text-anchor="end" >60</text>
<line x1="322.5" y1="223.9" x2="326" y2="223.9" stroke="#666" stroke-width="1.1"/>
<text x="318.6" y="227.3" font-size="10.5" text-anchor="end" >90</text>
<line x1="322.5" y1="355.15" x2="324.5" y2="355.15" stroke="#666" stroke-width="1.1"/>
<line x1="322.5" y1="302.65" x2="324.5" y2="302.65" stroke="#666" stroke-width="1.1"/>
<line x1="322.5" y1="250.15" x2="324.5" y2="250.15" stroke="#666" stroke-width="1.1"/>
<line x1="350.3" y1="381.4" x2="350.3" y2="378.4" stroke="#666" stroke-width="1.1"/>
<text x="350.3" y="392.8" font-size="10" text-anchor="middle" >V<tspan font-size="7" dy="2.6">2</tspan><tspan dy="-2.6">O</tspan><tspan font-size="7" dy="2.6">3</tspan><tspan dy="-2.6">@PC 750</tspan></text>
<line x1="419.9" y1="381.4" x2="419.9" y2="378.4" stroke="#666" stroke-width="1.1"/>
<text x="419.9" y="392.8" font-size="10" text-anchor="middle" >V<tspan font-size="7" dy="2.6">2</tspan><tspan dy="-2.6">O</tspan><tspan font-size="7" dy="2.6">3</tspan><tspan dy="-2.6">@PC 850</tspan></text>
<line x1="489.6" y1="381.4" x2="489.6" y2="378.4" stroke="#666" stroke-width="1.1"/>
<text x="489.6" y="392.8" font-size="10" text-anchor="middle" >V<tspan font-size="7" dy="2.6">2</tspan><tspan dy="-2.6">O</tspan><tspan font-size="7" dy="2.6">3</tspan><tspan dy="-2.6">@PC 950</tspan></text>
<text transform="translate(303.2,304.2) rotate(-90)" font-size="11.4" text-anchor="middle">Specific capacitance (F·g<tspan font-size="6.6" dy="-4.8">-1</tspan><tspan dy="4.8">)</tspan></text>
<text x="420" y="411.5" font-size="11" text-anchor="middle" >Samples</text>
<text x="28.5" y="432.4" font-size="14.5" text-anchor="start" >(e)</text>
<rect x="70" y="429.8" width="194.2" height="157.2" fill="none" stroke="#666" stroke-width="1.1"/>
<line x1="70.4" y1="587" x2="70.4" y2="583.5" stroke="#666" stroke-width="1.1"/>
<text x="70.4" y="599.3" font-size="10.5" text-anchor="middle" >0</text>
<line x1="70" y1="587" x2="73.5" y2="587" stroke="#666" stroke-width="1.1"/>
<text x="65" y="590.8" font-size="10.5" text-anchor="end" >0</text>
<line x1="102.7" y1="587" x2="102.7" y2="583.5" stroke="#666" stroke-width="1.1"/>
<text x="102.7" y="599.3" font-size="10.5" text-anchor="middle" >10</text>
<line x1="70" y1="560.8" x2="73.5" y2="560.8" stroke="#666" stroke-width="1.1"/>
<text x="65" y="564.6" font-size="10.5" text-anchor="end" >10</text>
<line x1="135" y1="587" x2="135" y2="583.5" stroke="#666" stroke-width="1.1"/>
<text x="135" y="599.3" font-size="10.5" text-anchor="middle" >20</text>
<line x1="70" y1="534.6" x2="73.5" y2="534.6" stroke="#666" stroke-width="1.1"/>
<text x="65" y="538.4" font-size="10.5" text-anchor="end" >20</text>
<line x1="167.3" y1="587" x2="167.3" y2="583.5" stroke="#666" stroke-width="1.1"/>
<text x="167.3" y="599.3" font-size="10.5" text-anchor="middle" >30</text>
<line x1="70" y1="508.4" x2="73.5" y2="508.4" stroke="#666" stroke-width="1.1"/>
<text x="65" y="512.2" font-size="10.5" text-anchor="end" >30</text>
<line x1="199.6" y1="587" x2="199.6" y2="583.5" stroke="#666" stroke-width="1.1"/>
<text x="199.6" y="599.3" font-size="10.5" text-anchor="middle" >40</text>
<line x1="70" y1="482.2" x2="73.5" y2="482.2" stroke="#666" stroke-width="1.1"/>
<text x="65" y="486" font-size="10.5" text-anchor="end" >40</text>
<line x1="231.9" y1="587" x2="231.9" y2="583.5" stroke="#666" stroke-width="1.1"/>
<text x="231.9" y="599.3" font-size="10.5" text-anchor="middle" >50</text>
<line x1="70" y1="456" x2="73.5" y2="456" stroke="#666" stroke-width="1.1"/>
<text x="65" y="459.8" font-size="10.5" text-anchor="end" >50</text>
<line x1="264.2" y1="587" x2="264.2" y2="583.5" stroke="#666" stroke-width="1.1"/>
<text x="264.2" y="599.3" font-size="10.5" text-anchor="middle" >60</text>
<line x1="70" y1="429.8" x2="73.5" y2="429.8" stroke="#666" stroke-width="1.1"/>
<text x="65" y="433.6" font-size="10.5" text-anchor="end" >60</text>
<line x1="86.55" y1="587" x2="86.55" y2="585" stroke="#666" stroke-width="1.1"/>
<line x1="70" y1="573.9" x2="72" y2="573.9" stroke="#666" stroke-width="1.1"/>
<line x1="118.85" y1="587" x2="118.85" y2="585" stroke="#666" stroke-width="1.1"/>
<line x1="70" y1="547.7" x2="72" y2="547.7" stroke="#666" stroke-width="1.1"/>
<line x1="151.15" y1="587" x2="151.15" y2="585" stroke="#666" stroke-width="1.1"/>
<line x1="70" y1="521.5" x2="72" y2="521.5" stroke="#666" stroke-width="1.1"/>
<line x1="183.45" y1="587" x2="183.45" y2="585" stroke="#666" stroke-width="1.1"/>
<line x1="70" y1="495.3" x2="72" y2="495.3" stroke="#666" stroke-width="1.1"/>
<line x1="215.75" y1="587" x2="215.75" y2="585" stroke="#666" stroke-width="1.1"/>
<line x1="70" y1="469.1" x2="72" y2="469.1" stroke="#666" stroke-width="1.1"/>
<line x1="248.05" y1="587" x2="248.05" y2="585" stroke="#666" stroke-width="1.1"/>
<line x1="70" y1="442.9" x2="72" y2="442.9" stroke="#666" stroke-width="1.1"/>
<text transform="translate(43,507) rotate(-90)" font-size="11" text-anchor="middle">Z'' (ohm)</text>
<text x="167.2" y="619.6" font-size="11.1" text-anchor="middle" >Z' (ohm)</text>
<g clip-path="url(#ce)">
<polyline points="199,429.5 187.6,441.1 173.9,458 162.2,473 151.5,485.5 142.5,497.5 135.4,507.9 129.6,517.3 124.6,525.9 121,532.8 117.4,538.8 114.2,545.1 111.9,551.1 107.7,558.6 105.3,563.2 103.1,567.2 101.3,571.5 99.6,575 99.07,576.2 98.53,577.4 98,578.6 97.47,579.8 96.93,581 96.4,582.2 95.87,583.4 95.33,584.6 94.8,585.8" fill="none" stroke="#ee2a2a" stroke-width="1.2"/>
<polyline points="200.5,429.5 197,435 185.2,453.2 173.1,469.3 162.2,481.4 150.9,495.5 143.3,506.8 135.8,515.5 131,524.5 126,533.1 122.4,538.8 119.3,545.5 116.6,550.8 114.6,556.6 112.5,560.7 111.2,564.9 109.6,569 107.5,573.2 104.6,577.3 103.93,578.51 103.26,579.73 102.59,580.94 101.91,582.16 101.24,583.37 100.57,584.59 99.9,585.8" fill="none" stroke="#1e9a3a" stroke-width="1.2"/>
<polyline points="184.4,429.5 180.9,435 169.1,454 159.4,471.7 151.4,485.4 145,498.7 139.1,509.8 134.6,519.4 131,528.1 128.9,534.5 125.3,541.7 123,548 121.2,553.7 116.4,561.5 114.1,564.9 112.1,568.2 111.69,569.46 111.27,570.71 110.86,571.97 110.44,573.23 110.03,574.49 109.61,575.74 109.2,577 108.79,578.26 108.37,579.51 107.96,580.77 107.54,582.03 107.13,583.29 106.71,584.54 106.3,585.8" fill="none" stroke="#2b3fa6" stroke-width="1.2"/>
<circle cx="94.8" cy="585.8" r="3.15" fill="url(#mr)"/>
<circle cx="95.33" cy="584.6" r="3.15" fill="url(#mr)"/>
<circle cx="95.87" cy="583.4" r="3.15" fill="url(#mr)"/>
<circle cx="96.4" cy="582.2" r="3.15" fill="url(#mr)"/>
<circle cx="96.93" cy="581" r="3.15" fill="url(#mr)"/>
<circle cx="97.47" cy="579.8" r="3.15" fill="url(#mr)"/>
<circle cx="98" cy="578.6" r="3.15" fill="url(#mr)"/>
<circle cx="98.53" cy="577.4" r="3.15" fill="url(#mr)"/>
<circle cx="99.07" cy="576.2" r="3.15" fill="url(#mr)"/>
<circle cx="99.6" cy="575" r="3.15" fill="url(#mr)"/>
<circle cx="101.3" cy="571.5" r="3.15" fill="url(#mr)"/>
<circle cx="103.1" cy="567.2" r="3.15" fill="url(#mr)"/>
<circle cx="105.3" cy="563.2" r="3.15" fill="url(#mr)"/>
<circle cx="107.7" cy="558.6" r="3.15" fill="url(#mr)"/>
<circle cx="111.9" cy="551.1" r="3.15" fill="url(#mr)"/>
<circle cx="114.2" cy="545.1" r="3.15" fill="url(#mr)"/>
<circle cx="117.4" cy="538.8" r="3.15" fill="url(#mr)"/>
<circle cx="121" cy="532.8" r="3.15" fill="url(#mr)"/>
<circle cx="124.6" cy="525.9" r="3.15" fill="url(#mr)"/>
<circle cx="129.6" cy="517.3" r="3.15" fill="url(#mr)"/>
<circle cx="135.4" cy="507.9" r="3.15" fill="url(#mr)"/>
<circle cx="142.5" cy="497.5" r="3.15" fill="url(#mr)"/>
<circle cx="151.5" cy="485.5" r="3.15" fill="url(#mr)"/>
<circle cx="162.2" cy="473" r="3.15" fill="url(#mr)"/>
<circle cx="173.9" cy="458" r="3.15" fill="url(#mr)"/>
<circle cx="187.6" cy="441.1" r="3.15" fill="url(#mr)"/>
<circle cx="99.9" cy="585.8" r="3.15" fill="url(#mg)"/>
<circle cx="100.57" cy="584.59" r="3.15" fill="url(#mg)"/>
<circle cx="101.24" cy="583.37" r="3.15" fill="url(#mg)"/>
<circle cx="101.91" cy="582.16" r="3.15" fill="url(#mg)"/>
<circle cx="102.59" cy="580.94" r="3.15" fill="url(#mg)"/>
<circle cx="103.26" cy="579.73" r="3.15" fill="url(#mg)"/>
<circle cx="103.93" cy="578.51" r="3.15" fill="url(#mg)"/>
<circle cx="104.6" cy="577.3" r="3.15" fill="url(#mg)"/>
<circle cx="107.5" cy="573.2" r="3.15" fill="url(#mg)"/>
<circle cx="109.6" cy="569" r="3.15" fill="url(#mg)"/>
<circle cx="111.2" cy="564.9" r="3.15" fill="url(#mg)"/>
<circle cx="112.5" cy="560.7" r="3.15" fill="url(#mg)"/>
<circle cx="114.6" cy="556.6" r="3.15" fill="url(#mg)"/>
<circle cx="116.6" cy="550.8" r="3.15" fill="url(#mg)"/>
<circle cx="119.3" cy="545.5" r="3.15" fill="url(#mg)"/>
<circle cx="122.4" cy="538.8" r="3.15" fill="url(#mg)"/>
<circle cx="126" cy="533.1" r="3.15" fill="url(#mg)"/>
<circle cx="131" cy="524.5" r="3.15" fill="url(#mg)"/>
<circle cx="135.8" cy="515.5" r="3.15" fill="url(#mg)"/>
<circle cx="143.3" cy="506.8" r="3.15" fill="url(#mg)"/>
<circle cx="150.9" cy="495.5" r="3.15" fill="url(#mg)"/>
<circle cx="162.2" cy="481.4" r="3.15" fill="url(#mg)"/>
<circle cx="173.1" cy="469.3" r="3.15" fill="url(#mg)"/>
<circle cx="185.2" cy="453.2" r="3.15" fill="url(#mg)"/>
<circle cx="197" cy="435" r="3.15" fill="url(#mg)"/>
<circle cx="106.3" cy="585.8" r="3.15" fill="url(#mb)"/>
<circle cx="106.71" cy="584.54" r="3.15" fill="url(#mb)"/>
<circle cx="107.13" cy="583.29" r="3.15" fill="url(#mb)"/>
<circle cx="107.54" cy="582.03" r="3.15" fill="url(#mb)"/>
<circle cx="107.96" cy="580.77" r="3.15" fill="url(#mb)"/>
<circle cx="108.37" cy="579.51" r="3.15" fill="url(#mb)"/>
<circle cx="108.79" cy="578.26" r="3.15" fill="url(#mb)"/>
<circle cx="109.2" cy="577" r="3.15" fill="url(#mb)"/>
<circle cx="109.61" cy="575.74" r="3.15" fill="url(#mb)"/>
<circle cx="110.03" cy="574.49" r="3.15" fill="url(#mb)"/>
<circle cx="110.44" cy="573.23" r="3.15" fill="url(#mb)"/>
<circle cx="110.86" cy="571.97" r="3.15" fill="url(#mb)"/>
<circle cx="111.27" cy="570.71" r="3.15" fill="url(#mb)"/>
<circle cx="111.69" cy="569.46" r="3.15" fill="url(#mb)"/>
<circle cx="112.1" cy="568.2" r="3.15" fill="url(#mb)"/>
<circle cx="114.1" cy="564.9" r="3.15" fill="url(#mb)"/>
<circle cx="116.4" cy="561.5" r="3.15" fill="url(#mb)"/>
<circle cx="121.2" cy="553.7" r="3.15" fill="url(#mb)"/>
<circle cx="123" cy="548" r="3.15" fill="url(#mb)"/>
<circle cx="125.3" cy="541.7" r="3.15" fill="url(#mb)"/>
<circle cx="128.9" cy="534.5" r="3.15" fill="url(#mb)"/>
<circle cx="131" cy="528.1" r="3.15" fill="url(#mb)"/>
<circle cx="134.6" cy="519.4" r="3.15" fill="url(#mb)"/>
<circle cx="139.1" cy="509.8" r="3.15" fill="url(#mb)"/>
<circle cx="145" cy="498.7" r="3.15" fill="url(#mb)"/>
<circle cx="151.4" cy="485.4" r="3.15" fill="url(#mb)"/>
<circle cx="159.4" cy="471.7" r="3.15" fill="url(#mb)"/>
<circle cx="169.1" cy="454" r="3.15" fill="url(#mb)"/>
<circle cx="180.9" cy="435" r="3.15" fill="url(#mb)"/>
</g>
<line x1="161.2" y1="529.8" x2="184.8" y2="529.8" stroke="#2b3fa6" stroke-width="1.2"/>
<circle cx="173.2" cy="529.8" r="3.3" fill="url(#mb)"/>
<text x="188.2" y="533.7" font-size="10.4" text-anchor="start" >V<tspan font-size="7.28" dy="2.6">2</tspan><tspan dy="-2.6">O</tspan><tspan font-size="7.28" dy="2.6">3</tspan><tspan dy="-2.6">@PC-750</tspan></text>
<line x1="161.2" y1="548.6" x2="184.8" y2="548.6" stroke="#ee2a2a" stroke-width="1.2"/>
<circle cx="173.2" cy="548.6" r="3.3" fill="url(#mr)"/>
<text x="188.2" y="552.5" font-size="10.4" text-anchor="start" >V<tspan font-size="7.28" dy="2.6">2</tspan><tspan dy="-2.6">O</tspan><tspan font-size="7.28" dy="2.6">3</tspan><tspan dy="-2.6">@PC-850</tspan></text>
<line x1="161.2" y1="567.5" x2="184.8" y2="567.5" stroke="#1e9a3a" stroke-width="1.2"/>
<circle cx="173.2" cy="567.5" r="3.3" fill="url(#mg)"/>
<text x="188.2" y="571.4" font-size="10.4" text-anchor="start" >V<tspan font-size="7.28" dy="2.6">2</tspan><tspan dy="-2.6">O</tspan><tspan font-size="7.28" dy="2.6">3</tspan><tspan dy="-2.6">@PC-950</tspan></text>
<text x="291.5" y="433.5" font-size="14.5" text-anchor="start" >(f)</text>
<g fill="none" stroke="#222" stroke-width="2.4" stroke-linejoin="miter">
<polyline points="293,515.8 308.3,515.8 313.3,520.8 322.6,511.3 331.9,520.8 341.4,511.3 345.8,515.8 405.4,515.8"/>
<polyline points="400.4,510.8 405.4,515.8 400.4,520.8"/>
<polyline points="409.7,510.8 414.7,515.8 409.7,520.8"/>
<polyline points="414.7,515.8 467,515.8"/>
<polyline points="483,515.8 513,515.8"/>
<polyline points="377.5,515.8 377.5,543 387,543 396.5,548 405.8,538.1 415.1,548 424.6,538.1 429,543 442.5,543 442.5,515.8"/>
</g>
<circle cx="377.5" cy="515.6" r="4.9" fill="#222"/>
<polyline points="467.2,511 471.2,521 475,512.5 478.9,521 482.9,511" fill="none" stroke="#222" stroke-width="2.2" stroke-linejoin="miter"/>
<circle cx="484.3" cy="519.3" r="1.8" fill="none" stroke="#222" stroke-width="0.9"/>
<text x="314.5" y="497.8" font-size="14.3" text-anchor="start" >R<tspan font-size="9.5" dy="3.2">s</tspan></text>
<text x="390.8" y="498.2" font-size="13.9" text-anchor="start" >CPE</text>
<text x="468.8" y="496.6" font-size="14" text-anchor="start" >W</text>
<text x="402.3" y="564.4" font-size="14.3" text-anchor="start" >R<tspan font-size="8.8" dy="2.9">ct</tspan></text>
</svg></body></html>
